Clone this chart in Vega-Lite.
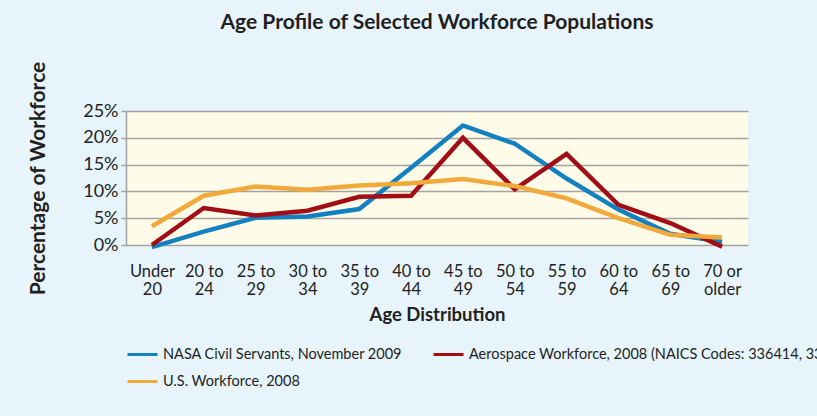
{
  "$schema": "https://vega.github.io/schema/vega-lite/v6.json",
  "background": "#e7f4fc",
  "padding": {"left": 126, "top": 111, "right": 69, "bottom": 171},
  "autosize": {"type": "none"},
  "config": {
    "view": {"stroke": null},
    "font": "Lato"
  },
  "width": 622,
  "height": 134,
  "view": {"fill": "#fffbe9", "stroke": null},
  "title": {
    "text": "Age Profile of Selected Workforce Populations",
    "font": "Lato",
    "fontSize": 21,
    "fontWeight": "bold",
    "color": "#231f20",
    "anchor": "middle",
    "offset": 28
  },
  "data": {
    "values": [
      {"age": "Under 20", "series": "NASA Civil Servants, November 2009", "pct": -0.4},
      {"age": "20 to 24", "series": "NASA Civil Servants, November 2009", "pct": 2.5},
      {"age": "25 to 29", "series": "NASA Civil Servants, November 2009", "pct": 5.1},
      {"age": "30 to 34", "series": "NASA Civil Servants, November 2009", "pct": 5.3},
      {"age": "35 to 39", "series": "NASA Civil Servants, November 2009", "pct": 6.7},
      {"age": "40 to 44", "series": "NASA Civil Servants, November 2009", "pct": 14.4},
      {"age": "45 to 49", "series": "NASA Civil Servants, November 2009", "pct": 22.3},
      {"age": "50 to 54", "series": "NASA Civil Servants, November 2009", "pct": 18.9},
      {"age": "55 to 59", "series": "NASA Civil Servants, November 2009", "pct": 12.4},
      {"age": "60 to 64", "series": "NASA Civil Servants, November 2009", "pct": 6.6},
      {"age": "65 to 69", "series": "NASA Civil Servants, November 2009", "pct": 2.1},
      {"age": "70 or older", "series": "NASA Civil Servants, November 2009", "pct": 0.6},
      {"age": "Under 20", "series": "Aerospace Workforce, 2008 (NAICS Codes: 336414, 336415, 336419)", "pct": 0.0},
      {"age": "20 to 24", "series": "Aerospace Workforce, 2008 (NAICS Codes: 336414, 336415, 336419)", "pct": 6.9},
      {"age": "25 to 29", "series": "Aerospace Workforce, 2008 (NAICS Codes: 336414, 336415, 336419)", "pct": 5.5},
      {"age": "30 to 34", "series": "Aerospace Workforce, 2008 (NAICS Codes: 336414, 336415, 336419)", "pct": 6.4},
      {"age": "35 to 39", "series": "Aerospace Workforce, 2008 (NAICS Codes: 336414, 336415, 336419)", "pct": 9.0},
      {"age": "40 to 44", "series": "Aerospace Workforce, 2008 (NAICS Codes: 336414, 336415, 336419)", "pct": 9.2},
      {"age": "45 to 49", "series": "Aerospace Workforce, 2008 (NAICS Codes: 336414, 336415, 336419)", "pct": 20.0},
      {"age": "50 to 54", "series": "Aerospace Workforce, 2008 (NAICS Codes: 336414, 336415, 336419)", "pct": 10.4},
      {"age": "55 to 59", "series": "Aerospace Workforce, 2008 (NAICS Codes: 336414, 336415, 336419)", "pct": 17.0},
      {"age": "60 to 64", "series": "Aerospace Workforce, 2008 (NAICS Codes: 336414, 336415, 336419)", "pct": 7.5},
      {"age": "65 to 69", "series": "Aerospace Workforce, 2008 (NAICS Codes: 336414, 336415, 336419)", "pct": 4.1},
      {"age": "70 or older", "series": "Aerospace Workforce, 2008 (NAICS Codes: 336414, 336415, 336419)", "pct": -0.3},
      {"age": "Under 20", "series": "U.S. Workforce, 2008", "pct": 3.5},
      {"age": "20 to 24", "series": "U.S. Workforce, 2008", "pct": 9.2},
      {"age": "25 to 29", "series": "U.S. Workforce, 2008", "pct": 10.9},
      {"age": "30 to 34", "series": "U.S. Workforce, 2008", "pct": 10.3},
      {"age": "35 to 39", "series": "U.S. Workforce, 2008", "pct": 11.1},
      {"age": "40 to 44", "series": "U.S. Workforce, 2008", "pct": 11.5},
      {"age": "45 to 49", "series": "U.S. Workforce, 2008", "pct": 12.3},
      {"age": "50 to 54", "series": "U.S. Workforce, 2008", "pct": 11.0},
      {"age": "55 to 59", "series": "U.S. Workforce, 2008", "pct": 8.7},
      {"age": "60 to 64", "series": "U.S. Workforce, 2008", "pct": 5.0},
      {"age": "65 to 69", "series": "U.S. Workforce, 2008", "pct": 1.9},
      {"age": "70 or older", "series": "U.S. Workforce, 2008", "pct": 1.4}
    ]
  },
  "mark": {"type": "line", "strokeWidth": 4.5},
  "encoding": {
    "x": {
      "field": "age",
      "type": "ordinal",
      "sort": ["Under 20", "20 to 24", "25 to 29", "30 to 34", "35 to 39", "40 to 44", "45 to 49", "50 to 54", "55 to 59", "60 to 64", "65 to 69", "70 or older"],
      "scale": {"padding": 0.5},
      "axis": {
        "title": "Age Distribution",
        "ticks": false,
        "domain": false,
        "grid": false,
        "labelAngle": 0,
        "labelExpr": "[substring(datum.value, 0, lastindexof(datum.value, ' ')), substring(datum.value, lastindexof(datum.value, ' ') + 1)]",
        "labelFont": "Lato",
        "labelFontSize": 16.5,
        "labelColor": "#231f20",
        "labelLineHeight": 18,
        "labelPadding": 18,
        "titleFont": "Lato",
        "titleFontSize": 18.5,
        "titleFontWeight": "bold",
        "titleColor": "#231f20",
        "titlePadding": 8
      }
    },
    "y": {
      "field": "pct",
      "type": "quantitative",
      "scale": {"domain": [0, 25], "nice": false},
      "axis": {
        "values": [0, 5, 10, 15, 20, 25],
        "labelExpr": "datum.value + '%'",
        "grid": true,
        "gridColor": "#a3a3a3",
        "gridWidth": 1.5,
        "domainColor": "#a3a3a3",
        "domainWidth": 1.5,
        "tickSize": 5,
        "tickColor": "#a3a3a3",
        "tickWidth": 1.5,
        "labelFont": "Lato",
        "labelFontSize": 18,
        "labelColor": "#231f20",
        "labelPadding": 3,
        "title": "Percentage of Workforce",
        "titleFont": "Lato",
        "titleFontSize": 21,
        "titleFontWeight": "bold",
        "titleColor": "#231f20",
        "titlePadding": 34
      }
    },
    "color": {
      "field": "series",
      "type": "nominal",
      "title": null,
      "scale": {
        "domain": ["NASA Civil Servants, November 2009", "Aerospace Workforce, 2008 (NAICS Codes: 336414, 336415, 336419)", "U.S. Workforce, 2008"],
        "range": ["#1380c0", "#a10e16", "#f2a93b"]
      },
      "legend": {
        "orient": "bottom",
        "direction": "horizontal",
        "columns": 2,
        "offset": 14,
        "symbolType": "stroke",
        "symbolSize": 900,
        "symbolStrokeWidth": 3,
        "labelLimit": 480,
        "labelFont": "Lato",
        "labelFontSize": 14.5,
        "labelColor": "#231f20",
        "columnPadding": 24,
        "rowPadding": 4
      }
    }
  }
}
